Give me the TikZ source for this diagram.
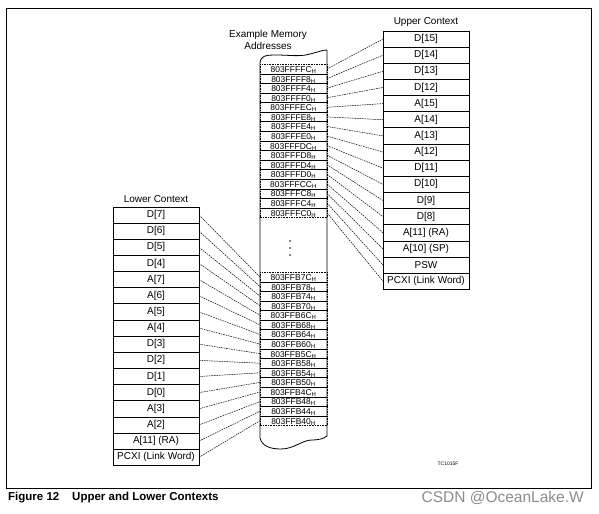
\documentclass[tikz,border=0pt]{standalone}
\usepackage{fontspec}
\setmainfont{Liberation Sans}
\usepackage{xcolor}
\usetikzlibrary{chains,positioning}
\newcommand{\addrH}[1]{#1\textsubscript{H}}

\begin{document}
\begin{tikzpicture}[x=1bp,y=-1bp]
        \useasboundingbox (0,0) rectangle (599,514);

        \tikzstyle{memrow}=[draw,dash pattern=on 1.6bp off 1bp,line width=0.5bp,minimum width=67bp,minimum height=9.58bp,inner sep=0pt,outer sep=0pt,text height=6.9bp,text depth=0pt,font=\fontsize{8.5bp}{8.5bp}\selectfont]
        \tikzstyle{ctxrow}=[draw,line width=0.7bp,minimum width=86bp,minimum height=16.15bp,inner sep=0pt,outer sep=0pt,font=\fontsize{10bp}{10bp}\selectfont]
        \tikzstyle{ctxtitle}=[inner sep=0pt,font=\fontsize{10bp}{10bp}\selectfont]
        \tikzstyle{link}=[dash pattern=on 1.6bp off 0.9bp,line width=0.5bp]
        % \tikzstyle{link}=[densely dotted]

        %% outer frame
        \draw[line width=0.9bp] (6.5,8.5) rectangle (591.5,488);

        %% memory column, upper part
        \begin{scope}[start chain=mhi going below,node distance=0pt]
            \node [on chain=mhi,memrow] (m1) at (293.5,69) {\addrH{803FFFFC}};
            \node [on chain=mhi,memrow] (m2) {\addrH{803FFFF8}};
            \node [on chain=mhi,memrow] (m3) {\addrH{803FFFF4}};
            \node [on chain=mhi,memrow] (m4) {\addrH{803FFFF0}};
            \node [on chain=mhi,memrow] (m5) {\addrH{803FFFEC}};
            \node [on chain=mhi,memrow] (m6) {\addrH{803FFFE8}};
            \node [on chain=mhi,memrow] (m7) {\addrH{803FFFE4}};
            \node [on chain=mhi,memrow] (m8) {\addrH{803FFFE0}};
            \node [on chain=mhi,memrow] (m9) {\addrH{803FFFDC}};
            \node [on chain=mhi,memrow] (m10) {\addrH{803FFFD8}};
            \node [on chain=mhi,memrow] (m11) {\addrH{803FFFD4}};
            \node [on chain=mhi,memrow] (m12) {\addrH{803FFFD0}};
            \node [on chain=mhi,memrow] (m13) {\addrH{803FFFCC}};
            \node [on chain=mhi,memrow] (m14) {\addrH{803FFFC8}};
            \node [on chain=mhi,memrow] (m15) {\addrH{803FFFC4}};
            \node [on chain=mhi,memrow] (m16) {\addrH{803FFFC0}};
        \end{scope}

        %% memory column, lower part
        \begin{scope}[start chain=mlo going below,node distance=0pt]
            \node [on chain=mlo,memrow] (n1) at (293.5,277) {\addrH{803FFB7C}};
            \node [on chain=mlo,memrow] (n2) {\addrH{803FFB78}};
            \node [on chain=mlo,memrow] (n3) {\addrH{803FFB74}};
            \node [on chain=mlo,memrow] (n4) {\addrH{803FFB70}};
            \node [on chain=mlo,memrow] (n5) {\addrH{803FFB6C}};
            \node [on chain=mlo,memrow] (n6) {\addrH{803FFB68}};
            \node [on chain=mlo,memrow] (n7) {\addrH{803FFB64}};
            \node [on chain=mlo,memrow] (n8) {\addrH{803FFB60}};
            \node [on chain=mlo,memrow] (n9) {\addrH{803FFB5C}};
            \node [on chain=mlo,memrow] (n10) {\addrH{803FFB58}};
            \node [on chain=mlo,memrow] (n11) {\addrH{803FFB54}};
            \node [on chain=mlo,memrow] (n12) {\addrH{803FFB50}};
            \node [on chain=mlo,memrow] (n13) {\addrH{803FFB4C}};
            \node [on chain=mlo,memrow] (n14) {\addrH{803FFB48}};
            \node [on chain=mlo,memrow] (n15) {\addrH{803FFB44}};
            \node [on chain=mlo,memrow] (n16) {\addrH{803FFB40}};
        \end{scope}

        %% torn column outline
        \draw[line width=0.8bp,fill=none] (260,64) .. controls (260,56) and (265,55) .. (276,55)
            .. controls (290,55) and (300,57) .. (310,54) .. controls (318,52) and (323,50) .. (327,50)
            -- (327,436) .. controls (323,439) and (318,440) .. (312,440)
            .. controls (302,440) and (294,449) .. (281,449) .. controls (270,449) and (262,446) .. (260,438) -- cycle;
        \fill (290,241) circle (0.8) (290,248) circle (0.8) (290,255) circle (0.8);

        \node[align=center,inner sep=0pt,font=\fontsize{10bp}{12bp}\selectfont] (memtitle) at (268,40) {Example Memory\\Addresses};

        %% Upper context
        \begin{scope}[start chain=up going below,node distance=0pt]
            \node [on chain=up,ctxrow] (u1) at (426,39) {D[15]};
            \node [on chain=up,ctxrow] (u2) {D[14]};
            \node [on chain=up,ctxrow] (u3) {D[13]};
            \node [on chain=up,ctxrow] (u4) {D[12]};
            \node [on chain=up,ctxrow] (u5) {A[15]};
            \node [on chain=up,ctxrow] (u6) {A[14]};
            \node [on chain=up,ctxrow] (u7) {A[13]};
            \node [on chain=up,ctxrow] (u8) {A[12]};
            \node [on chain=up,ctxrow] (u9) {D[11]};
            \node [on chain=up,ctxrow] (u10) {D[10]};
            \node [on chain=up,ctxrow] (u11) {D[9]};
            \node [on chain=up,ctxrow] (u12) {D[8]};
            \node [on chain=up,ctxrow] (u13) {A[11] (RA)};
            \node [on chain=up,ctxrow] (u14) {A[10] (SP)};
            \node [on chain=up,ctxrow] (u15) {PSW};
            \node [on chain=up,ctxrow] (u16) {PCXI (Link Word)};
        \end{scope}
        \node [ctxtitle,above=4bp of u1] (uptitle) {Upper Context};

        %% Lower context
        \begin{scope}[start chain=low going below,node distance=0pt]
            \node [on chain=low,ctxrow] (l1) at (156,215) {D[7]};
            \node [on chain=low,ctxrow] (l2) {D[6]};
            \node [on chain=low,ctxrow] (l3) {D[5]};
            \node [on chain=low,ctxrow] (l4) {D[4]};
            \node [on chain=low,ctxrow] (l5) {A[7]};
            \node [on chain=low,ctxrow] (l6) {A[6]};
            \node [on chain=low,ctxrow] (l7) {A[5]};
            \node [on chain=low,ctxrow] (l8) {A[4]};
            \node [on chain=low,ctxrow] (l9) {D[3]};
            \node [on chain=low,ctxrow] (l10) {D[2]};
            \node [on chain=low,ctxrow] (l11) {D[1]};
            \node [on chain=low,ctxrow] (l12) {D[0]};
            \node [on chain=low,ctxrow] (l13) {A[3]};
            \node [on chain=low,ctxrow] (l14) {A[2]};
            \node [on chain=low,ctxrow] (l15) {A[11] (RA)};
            \node [on chain=low,ctxrow] (l16) {PCXI (Link Word)};
        \end{scope}
        \node [ctxtitle,above=4bp of l1] (lowtitle) {Lower Context};

        %% connectors
        \foreach \i in {1,...,16} {
            \draw[link] (m\i.east) -- (u\i.west);
            \draw[link] (l\i.east) -- (n\i.west);
        }

        \node[inner sep=0pt,font=\fontsize{5bp}{5bp}\selectfont] (docid) at (448,464) {TC1015F};

        \node[anchor=west,inner sep=0pt,font=\fontsize{11.5bp}{11.5bp}\selectfont\bfseries] (fignum) at (8,498) {Figure 12};
        \node[anchor=west,inner sep=0pt,font=\fontsize{11.5bp}{11.5bp}\selectfont\bfseries] (figtitle) at (72,498) {Upper and Lower Contexts};
        \node[anchor=east,inner sep=0pt,text=black!45,font=\fontsize{15.5bp}{15.5bp}\selectfont] (mark) at (584,498) {CSDN @OceanLake.W};

\end{tikzpicture}
\end{document}
